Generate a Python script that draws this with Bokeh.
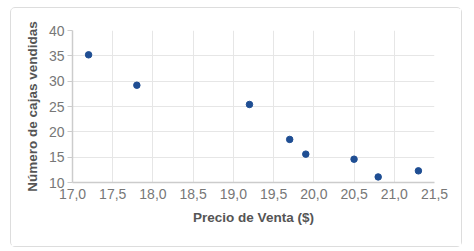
from bokeh.plotting import figure
from bokeh.models import FixedTicker, Range1d
from bokeh.embed import file_html
from bokeh.resources import INLINE

precio = [17.2, 17.8, 19.2, 19.7, 19.9, 20.5, 20.8, 21.3]
cajas = [35.2, 29.2, 25.4, 18.5, 15.6, 14.6, 11.1, 12.3]
x_ticks = [17.0, 17.5, 18.0, 18.5, 19.0, 19.5, 20.0, 20.5, 21.0, 21.5]
y_ticks = [10, 15, 20, 25, 30, 35, 40]
x_title = "Precio de Venta ($)"
y_title = "Número de cajas vendidas"

p = figure(width=452, height=240, output_backend="svg", toolbar_location=None,
           x_range=Range1d(17.0, 21.5), y_range=Range1d(10, 40),
           min_border_left=61, min_border_right=29, min_border_top=22, min_border_bottom=66,
           margin=(7, 0, 0, 10))
p.styles = {"border": "1px solid #dddddd", "border-radius": "5px", "box-sizing": "border-box"}
p.outline_line_color = None

p.scatter(precio, cajas, size=6.5, color="#1f4e93")

font = "Liberation Sans"
p.xaxis.ticker = FixedTicker(ticks=x_ticks)
p.yaxis.ticker = FixedTicker(ticks=y_ticks)
p.xaxis.major_label_overrides = {t: f"{t:.1f}".replace(".", ",") for t in x_ticks}
for ax in (p.xaxis, p.yaxis):
    ax.axis_line_color = "#cccccc"
    ax.axis_line_width = 1.5
    ax.major_tick_line_color = "#cccccc"
    ax.major_tick_in = 0
    ax.minor_tick_line_color = None
    ax.major_label_text_font = font
    ax.major_label_text_font_size = "14px"
    ax.major_label_text_color = "#777777"
    ax.axis_label_text_font = font
    ax.axis_label_text_font_size = "13.5px"
    ax.axis_label_text_font_style = "bold"
    ax.axis_label_text_color = "#555555"
p.xaxis.major_tick_out = 0
p.yaxis.major_tick_out = 5
p.xaxis.major_label_standoff = 6
p.yaxis.major_label_standoff = 3
p.xaxis.axis_label = x_title
p.yaxis.axis_label = y_title
p.xaxis.axis_label_standoff = 8
p.yaxis.axis_label_standoff = 6
p.grid.grid_line_color = "#e6e6e6"

open("out.html", "w").write(file_html(p, INLINE))
